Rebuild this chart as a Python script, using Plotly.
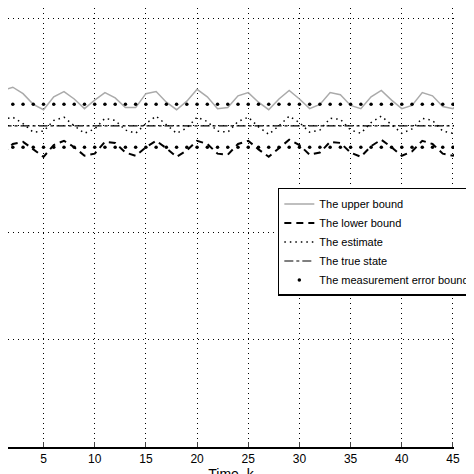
import plotly.graph_objects as go

k = list(range(1, 47))
upper = [3.33, 3.36, 3.30, 3.20, 3.15, 3.27, 3.32, 3.25, 3.16, 3.24, 3.31, 3.26, 3.17, 3.17, 3.30,
         3.32, 3.22, 3.15, 3.23, 3.34, 3.27, 3.16, 3.17, 3.28, 3.31, 3.22, 3.15, 3.25, 3.33, 3.25,
         3.16, 3.20, 3.31, 3.29, 3.19, 3.16, 3.27, 3.33, 3.24, 3.16, 3.19, 3.31, 3.28, 3.18, 3.16, 3.25]
lower = [2.74, 2.83, 2.85, 2.78, 2.71, 2.82, 2.86, 2.80, 2.72, 2.74, 2.85, 2.84, 2.75, 2.72, 2.80,
         2.86, 2.79, 2.71, 2.77, 2.86, 2.83, 2.74, 2.73, 2.83, 2.86, 2.78, 2.71, 2.79, 2.87, 2.82,
         2.73, 2.75, 2.85, 2.84, 2.75, 2.71, 2.81, 2.87, 2.80, 2.72, 2.76, 2.86, 2.83, 2.74, 2.72, 2.80]
estimate = [3.06, 3.08, 3.02, 2.94, 2.95, 3.05, 3.08, 3.00, 2.93, 2.97, 3.07, 3.05, 2.96, 2.93, 3.02,
            3.09, 3.01, 2.93, 2.98, 3.08, 3.04, 2.95, 2.94, 3.04, 3.08, 2.99, 2.92, 3.00, 3.09, 3.03,
            2.94, 2.96, 3.07, 3.06, 2.96, 2.93, 3.03, 3.09, 3.01, 2.93, 2.97, 3.07, 3.05, 2.95, 2.93, 3.02]
true_state = [3.0] * 46
err_upper = [3.2] * 46
err_lower = [2.8] * 46

fig = go.Figure()
fig.add_trace(go.Scatter(x=k, y=upper, mode="lines", name="The upper bound",
                         line=dict(color="#aaaaaa", width=1.5)))
fig.add_trace(go.Scatter(x=k, y=lower, mode="lines", name="The lower bound",
                         line=dict(color="black", width=2, dash="7px,5px")))
fig.add_trace(go.Scatter(x=k, y=estimate, mode="lines", name="The estimate",
                         line=dict(color="black", width=1.5, dash="1.5px,4px")))
fig.add_trace(go.Scatter(x=k, y=true_state, mode="lines", name="The true state",
                         line=dict(color="black", width=1.2, dash="dashdot")))
fig.add_trace(go.Scatter(x=k, y=err_upper, mode="markers", name="The measurement error bounds",
                         marker=dict(color="black", size=3.5)))
fig.add_trace(go.Scatter(x=k, y=err_lower, mode="markers", showlegend=False,
                         marker=dict(color="black", size=3.5)))

grid = dict(showgrid=True, gridcolor="black", griddash="1px,4px", gridwidth=1, zeroline=False)
fig.update_layout(
    width=474, height=474, plot_bgcolor="white", paper_bgcolor="white",
    margin=dict(l=0, r=0, t=0, b=35),
    font=dict(family="Liberation Sans, Arial", size=12, color="black"),
    xaxis=dict(range=[1.53, 45.1], tickvals=[5, 10, 15, 20, 25, 30, 35, 40, 45],
               title=dict(text="Time, k", standoff=0), ticks="inside", ticklen=5,
               showline=True, linecolor="black", linewidth=1.5, **grid),
    yaxis=dict(range=[0, 4.1], tickvals=[1, 2, 3, 4], showticklabels=False, **grid),
    legend=dict(x=0.605, y=0.59, xanchor="left", yanchor="top", bgcolor="white",
                bordercolor="black", borderwidth=1.5, font=dict(size=11),
                tracegroupgap=0, itemwidth=30),
)
fig.write_html("out.html")
